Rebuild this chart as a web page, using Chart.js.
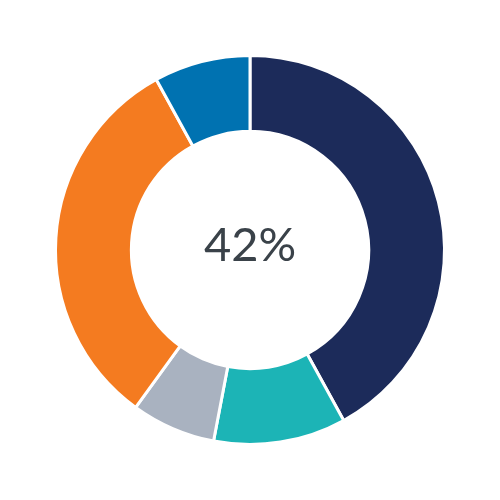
<!DOCTYPE html>
<html>
<head>
<meta charset="utf-8">
<script src="https://cdn.jsdelivr.net/npm/chart.js@4"></script>
<style>
  html, body { margin: 0; padding: 0; background: #fff; }
  #wrap { width: 500px; height: 500px; }
</style>
</head>
<body>
<div id="wrap"><canvas id="grafico"></canvas></div>
<script>
const categorias = ['A', 'B', 'C', 'D', 'E'];
const valores = [42, 11, 7, 32, 8];
const cores = ['#1c2b5a', '#1cb4b6', '#a9b2c0', '#f47b20', '#0072b1'];
const textoCentro = '42%';

// escreve o percentual no meio do anel
const textoMeio = {
  id: 'textoMeio',
  afterDraw(chart) {
    const arco = chart.getDatasetMeta(0).data[0];
    const ctx = chart.ctx;
    ctx.save();
    ctx.font = '400 47px Lato';
    ctx.fillStyle = '#3a4249';
    ctx.textAlign = 'center';
    ctx.textBaseline = 'middle';
    ctx.fillText(textoCentro, arco.x, arco.y - 4);
    ctx.restore();
  }
};

new Chart(document.getElementById('grafico'), {
  type: 'doughnut',
  data: {
    labels: categorias,
    datasets: [{
      data: valores,
      backgroundColor: cores,
      borderColor: '#ffffff',
      borderWidth: 3
    }]
  },
  options: {
    responsive: true,
    maintainAspectRatio: false,
    animation: false,
    cutout: '61%',
    layout: { padding: 54 },
    plugins: {
      legend: { display: false },
      tooltip: { enabled: false }
    }
  },
  plugins: [textoMeio]
});
</script>
</body>
</html>
